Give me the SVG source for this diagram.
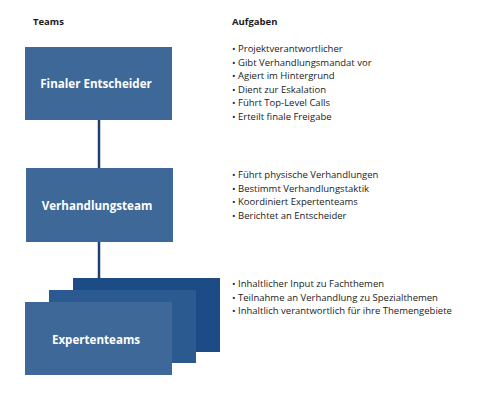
<svg xmlns="http://www.w3.org/2000/svg" width="484" height="400" viewBox="0 0 484 400">
<style>
.hd{font-family:"Open Sans","Noto Sans",sans-serif;font-size:9.5px;font-weight:bold;fill:#1a1a1a}
.lb{font-family:"Open Sans","Noto Sans",sans-serif;font-size:11.6px;font-weight:bold;fill:#ffffff;text-anchor:middle}
.tx{font-family:"Open Sans","Noto Sans",sans-serif;font-size:9.5px;fill:#1a1a1a}
.c1{fill:#3e6898}
.c2{fill:#2b5a90}
.c3{fill:#1c4b86}
.ln{stroke:#1f3f73;stroke-width:2.5;fill:none}
</style>
<rect width="484" height="400" fill="#ffffff"/>
<text class="hd" x="33" y="25">Teams</text>
<text class="hd" x="232" y="25">Aufgaben</text>
<g id="connectors">
<line class="ln" x1="99" y1="120" x2="99" y2="168"/>
<line class="ln" x1="99" y1="242" x2="99" y2="278"/>
</g>
<g id="finaler-entscheider">
<rect class="c1" x="25" y="47" width="147" height="73"/>
<text class="lb" x="96" y="88">Finaler Entscheider</text>
</g>
<g id="verhandlungsteam">
<rect class="c1" x="26" y="168" width="147" height="74"/>
<text class="lb" x="97" y="210">Verhandlungsteam</text>
</g>
<g id="expertenteams">
<rect class="c3" x="73" y="278" width="147" height="74"/>
<rect class="c2" x="49" y="290" width="147" height="73"/>
<rect class="c1" x="25" y="302" width="147" height="73"/>
<text class="lb" x="96" y="344">Expertenteams</text>
</g>
<g id="aufgaben-1" class="tx">
<text x="232" y="52">• Projektverantwortlicher</text>
<text x="232" y="65.6">• Gibt Verhandlungsmandat vor</text>
<text x="232" y="79.2">• Agiert im Hintergrund</text>
<text x="232" y="92.8">• Dient zur Eskalation</text>
<text x="232" y="106.4">• Führt Top-Level Calls</text>
<text x="232" y="120">• Erteilt finale Freigabe</text>
</g>
<g id="aufgaben-2" class="tx">
<text x="232" y="178">• Führt physische Verhandlungen</text>
<text x="232" y="191.6">• Bestimmt Verhandlungstaktik</text>
<text x="232" y="205.2">• Koordiniert Expertenteams</text>
<text x="232" y="218.8">• Berichtet an Entscheider</text>
</g>
<g id="aufgaben-3" class="tx">
<text x="232" y="287">• Inhaltlicher Input zu Fachthemen</text>
<text x="232" y="300.6">• Teilnahme an Verhandlung zu Spezialthemen</text>
<text x="232" y="314.2">• Inhaltlich verantwortlich für ihre Themengebiete</text>
</g>
</svg>
